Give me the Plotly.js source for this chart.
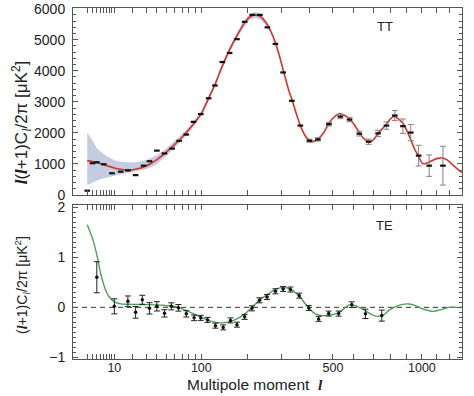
<!DOCTYPE html>
<html><head><meta charset="utf-8">
<script src="https://cdn.plot.ly/plotly-3.0.1.min.js"></script>
<style>html,body{margin:0;padding:0;background:#fff}#chart{width:474px;height:396px}</style>
</head><body><div id="chart"></div>
<script>
// ---- x-axis: multipole l drawn on a power-law (l^0.404) scale ----
const X_POWER = 0.404;
const x_range_l = [0.393, 1295];
const x_tick_l = [2,3,4,5,6,7,8,9,10,20,30,40,50,60,70,80,90,100,200,300,400,500,600,700,800,900,1000,1100,1200];
const x_label_l = [10,100,500,1000];

// ---- TT binned data ----
const tt_l   = [2,3,4,6,9,13,17,22,28,33,40,48,57,66,76,87,99,113,125,140,156,173,192,212,233,255,280,305,335,366,401,435,482,534,578,627,676,728,776,826,876,926,978,1050,1149];
const tt_val = [140,1023,1055,990,700,752,790,640,945,1087,1429,1339,1494,1742,1945,2355,2606,3113,3526,4281,4571,5016,5574,5800,5797,5397,4861,3945,3032,2235,1748,1790,2281,2523,2429,1974,1716,1984,2235,2558,2216,2010,1268,945,945];
const tt_err = [null,null,null,null,null,null,null,null,null,null,null,null,null,null,null,null,null,null,null,null,null,null,null,null,null,null,null,null,null,null,50,55,60,65,70,75,85,100,118,161,232,258,334,345,624];

// ---- TT model curve ----
const tt_model_l = [2,3,4,5,6,8,10,13,16,20,25,30,35,40,50,60,70,80,90,100,112,125,140,156,173,192,205,220,235,250,265,280,295,310,325,337,350,366,385,401,414,435,460,482,510,531,555,578,600,627,650,677,700,727,750,776,800,820,845,876,900,926,950,978,1005,1040,1080,1110,1143,1180,1218,1255,1295];
const tt_model   = [1106,1075,1045,1010,975,915,870,830,810,815,860,935,1030,1140,1380,1620,1860,2110,2360,2620,3080,3550,4150,4680,5130,5550,5730,5800,5740,5560,5280,4900,4400,3850,3350,3030,2650,2235,1900,1753,1720,1796,2010,2313,2540,2613,2560,2442,2280,2010,1820,1720,1770,1968,2120,2280,2450,2526,2460,2310,2080,1780,1490,1240,1010,1040,1130,1180,1200,1130,990,850,720];

// ---- TT cosmic-variance band ----
const band_l  = [2,3,4,5,6,8,10,13,16,20,25,30,35,40,50,60,70,80,90,100,112,125,140,156,173,192,205,220,235,250,265,280,295,310];
const band_hi = [2010,1760,1505,1400,1312,1200,1120,1070,1048,1045,1080,1130,1200,1290,1500,1730,1960,2200,2450,2700,3160,3630,4230,4770,5220,5650,5830,5900,5840,5650,5360,4960,4440,3870];
const band_lo = [323,400,484,515,538,580,630,680,718,750,790,832,900,990,1260,1510,1760,2020,2270,2540,3000,3470,4070,4590,5040,5450,5630,5700,5640,5470,5200,4840,4360,3830];

// ---- TE binned data ----
const te_l   = [4,10,17,22,27,33,40,48,56,65,76,88,99,111,126,142,158,173,192,211,232,254,280,305,330,362,398,438,481,526,589,659,749];
const te_val = [0.60,0.02,0.12,-0.10,0.15,-0.02,0.02,-0.12,0.02,-0.01,-0.13,-0.21,-0.21,-0.25,-0.365,-0.40,-0.26,-0.345,-0.19,-0.02,0.14,0.207,0.32,0.367,0.355,0.233,-0.012,-0.23,-0.125,-0.125,0.054,-0.13,-0.165];
const te_err = [0.31,0.15,0.107,0.116,0.09,0.113,0.093,0.073,0.07,0.066,0.063,0.056,0.05,0.05,0.05,0.05,0.05,0.05,0.05,0.05,0.05,0.05,0.05,0.05,0.05,0.05,0.05,0.05,0.05,0.05,0.055,0.093,0.11];

// ---- TE model curve ----
const te_model_l = [2,3,4,5,6,7,8,10,13,20,30,40,50,63,82,100,118,136,155,173,192,211,232,254,280,307,335,362,398,425,453,490,526,550,574,610,650,690,725,760,790,820,860,913,960,1000,1040,1082,1130,1190,1240,1295];
const te_model   = [1.647,1.37,1.05,0.69,0.45,0.29,0.2,0.11,0.07,0.06,0.055,0.05,0.035,0.008,-0.1,-0.2,-0.28,-0.31,-0.29,-0.23,-0.13,0,0.14,0.253,0.36,0.398,0.35,0.22,-0.012,-0.13,-0.165,-0.15,-0.11,-0.03,0.045,0.03,-0.046,-0.14,-0.18,-0.15,-0.06,0,0.05,0.067,0.03,-0.026,-0.06,-0.08,-0.05,0,0,0];

// ---- text ----
const ELL = '<span style="font-family:\'Liberation Serif\',\'DejaVu Serif\',serif;font-weight:bold;font-style:italic">l</span>';
const ELLsub = '<sub><span style="font-family:\'Liberation Serif\',serif;font-style:italic">l</span></sub>';
const title_tt_y = ELL + '(' + ELL + '+1)C' + ELLsub + '/2π [μK<sup>2</sup>]';
const title_te_y = '(' + ELL + '+1)C' + ELLsub + '/2π [μK<sup>2</sup>]';
const title_x = 'Multipole moment  ' + ELL;
const panel_labels = ['TT','TE'];

const tx = l => Math.pow(l, X_POWER);
const TX = arr => arr.map(tx);

const RED = '#d8322c', GREEN = '#4f9e5e', BAND = '#c5cce1', AX = '#555';

const traces = [
  {x: TX(band_l), y: band_lo, xaxis:'x2', yaxis:'y2', mode:'lines', line:{width:0, color:BAND}, hoverinfo:'skip'},
  {x: TX(band_l), y: band_hi, xaxis:'x2', yaxis:'y2', mode:'lines', fill:'tonexty', fillcolor:BAND, line:{width:0, color:BAND}, hoverinfo:'skip'},
  {x: TX(tt_model_l), y: tt_model, xaxis:'x2', yaxis:'y2', mode:'lines', line:{color:RED, width:1.6, shape:'spline', smoothing:0.8}},
  {x: TX(tt_l), y: tt_val, xaxis:'x2', yaxis:'y2', mode:'markers',
   marker:{symbol:'line-ew', size:4, color:'#111', line:{width:2.2, color:'#111'}},
   error_y:{type:'data', array: tt_err.map(v => v === null ? NaN : v), color:'#858585', thickness:1, width:3}},
  {x: TX(te_model_l), y: te_model, xaxis:'x', yaxis:'y', mode:'lines', line:{color:GREEN, width:1.4, shape:'spline', smoothing:0.8}},
  {x: TX(te_l), y: te_val, xaxis:'x', yaxis:'y', mode:'markers',
   marker:{symbol:'circle', size:3.5, color:'#111'},
   error_y:{type:'data', array: te_err, color:'#222', thickness:1, width:3}}
];

const xcommon = {
  range: [tx(x_range_l[0]), tx(x_range_l[1])],
  tickmode:'array', tickvals: TX(x_tick_l),
  ticktext: x_tick_l.map(l => x_label_l.includes(l) ? String(l) : ''),
  ticks:'inside', ticklen:5, tickwidth:1, tickcolor:AX,
  showline:true, linecolor:AX, linewidth:1, mirror:'ticks',
  showgrid:false, zeroline:false, fixedrange:true
};
const ycommon = {
  ticks:'inside', ticklen:5, tickwidth:1, tickcolor:AX,
  showline:true, linecolor:AX, linewidth:1, mirror:'ticks',
  showgrid:false, zeroline:false, fixedrange:true,
  tickfont:{size:14, color:'#222'}, ticklabelstandoff:4
};

const layout = {
  width:474, height:396,
  margin:{l:73, r:12, t:8, b:37},
  paper_bgcolor:'#fff', plot_bgcolor:'#fff',
  showlegend:false,
  font:{family:'Liberation Sans, Arial, Helvetica, sans-serif', color:'#222'},
  xaxis: Object.assign({}, xcommon, {domain:[0,1], anchor:'y', tickfont:{size:12.5, color:'#222'}, ticklabelstandoff:-3}),
  xaxis2: Object.assign({}, xcommon, {domain:[0,1], anchor:'y2', showticklabels:false}),
  yaxis: Object.assign({}, ycommon, {domain:[0,0.4387], anchor:'x', range:[-1.03,2.04], dtick:1,
     minor:{dtick:0.1, ticks:'inside', ticklen:3, tickcolor:AX}}),
  yaxis2: Object.assign({}, ycommon, {domain:[0.4672,1], anchor:'x2', range:[0,6020], dtick:1000,
     minor:{dtick:200, ticks:'inside', ticklen:3, tickcolor:AX}}),
  shapes:[{type:'line', xref:'paper', yref:'y', x0:0, x1:1, y0:0, y1:0, line:{color:'#333', width:1, dash:'5px,4px'}, layer:'below'}],
  annotations:[
    {text:title_tt_y, xref:'paper', yref:'paper', x:-0.133, y:0.675, textangle:-90, showarrow:false, xanchor:'center', yanchor:'middle', font:{size:17, color:'#222'}},
    {text:title_te_y, xref:'paper', yref:'paper', x:-0.131, y:0.211, textangle:-90, showarrow:false, xanchor:'center', yanchor:'middle', font:{size:14, color:'#222'}},
    {text:title_x, xref:'paper', yref:'paper', x:0.468, y:-0.072, showarrow:false, xanchor:'center', yanchor:'middle', font:{size:15.5, color:'#222'}},
    {text:panel_labels[0], xref:'paper', yref:'paper', x:0.802, y:0.946, showarrow:false, xanchor:'center', yanchor:'middle', font:{size:13, color:'#222'}},
    {text:panel_labels[1], xref:'paper', yref:'paper', x:0.802, y:0.379, showarrow:false, xanchor:'center', yanchor:'middle', font:{size:13, color:'#222'}}
  ]
};

Plotly.newPlot('chart', traces, layout, {displayModeBar:false, staticPlot:true});
</script>
</body></html>
